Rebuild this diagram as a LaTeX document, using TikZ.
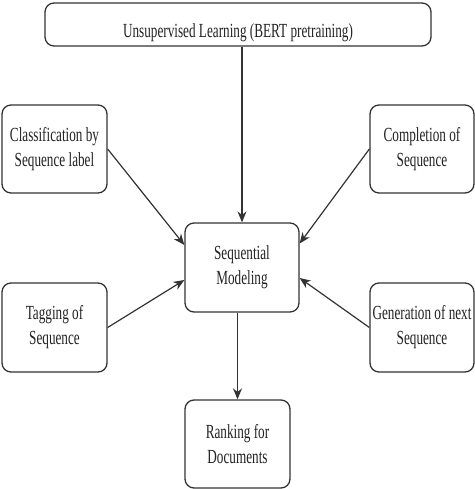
\documentclass[tikz,border=0pt]{standalone}
\usepackage{fontspec}
\setmainfont[FakeStretch=0.66]{Liberation Serif}
\usetikzlibrary{arrows.meta}
\definecolor{ln}{HTML}{333333}
\definecolor{tx}{HTML}{222222}
\begin{document}
\begin{tikzpicture}[x=1pt,y=-1pt,
  txt/.style={font=\fontsize{20}{25}\selectfont, text=tx, align=center},
  box/.style={txt, draw=ln, line width=1.3pt, rounded corners=9pt, inner sep=0pt},
  arr/.style={draw=ln, line width=1.2pt, -{Stealth[length=11pt,width=9pt]}}]
\useasboundingbox (0,0) rectangle (474,489);
\node[box, minimum width=386pt, minimum height=43pt] (top) at (238,24.5) {};
\node[txt, inner sep=0pt, anchor=base] (toptext) at (238,38) {Unsupervised Learning (BERT pretraining)};
\node[box, minimum width=105pt, minimum height=88pt] (cls) at (54.5,149) {Classification by\\Sequence label};
\node[box, minimum width=104pt, minimum height=88pt] (comp) at (422,149) {Completion of\\Sequence};
\node[box, minimum width=114pt, minimum height=89pt] (seq) at (242,267.5) {Sequential\\Modeling};
\node[box, minimum width=105pt, minimum height=89pt] (tag) at (54.5,327.5) {Tagging of\\Sequence};
\node[box, minimum width=104pt, minimum height=89pt] (gen) at (422,327.5) {Generation of next\\Sequence};
\node[box, minimum width=105pt, minimum height=88pt] (rank) at (237.5,444) {Ranking for\\Documents};
\draw[arr] (seq.north |- top.south) -- (seq.north);
\draw[arr] (cls.east) -- ([yshift=22.5pt]seq.west);
\draw[arr] (comp.west) -- ([yshift=24pt]seq.east);
\draw[arr] (tag.east) -- ([yshift=-12.5pt]seq.west);
\draw[arr] (gen.west) -- ([yshift=-10.5pt]seq.east);
\draw[arr] (rank.north |- seq.south) -- (rank.north);
\end{tikzpicture}
\end{document}
